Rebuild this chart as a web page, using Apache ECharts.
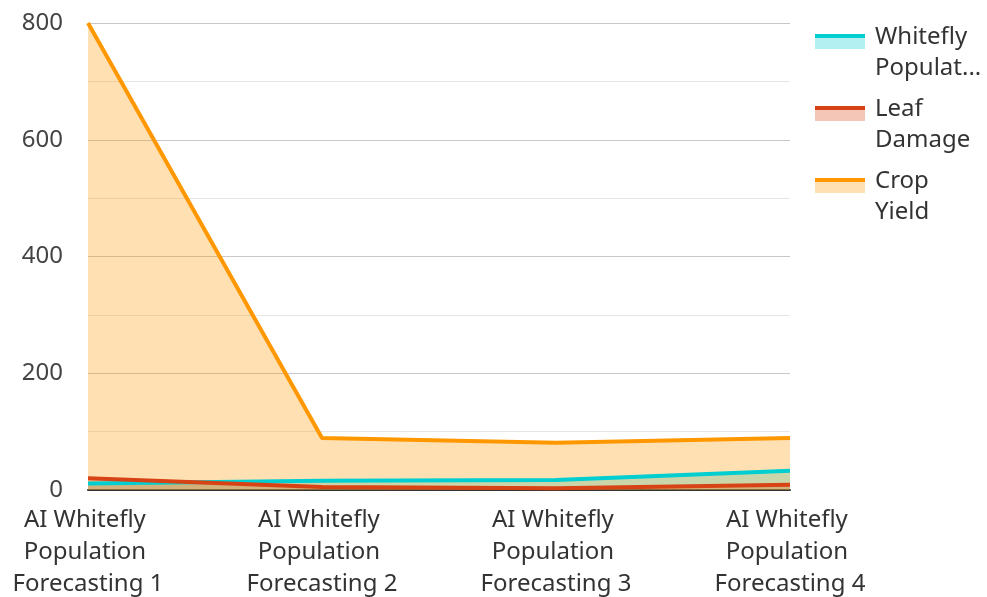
<!DOCTYPE html>
<html>
<head>
<meta charset="utf-8">
<script src="https://cdn.jsdelivr.net/npm/echarts@6/dist/echarts.min.js"></script>
<style>html,body{margin:0;padding:0;background:#fff;}#c{width:987px;height:597px;}</style>
</head>
<body>
<div id="c"></div>
<script>
var categories = ['AI Whitefly Population Forecasting 1', 'AI Whitefly Population Forecasting 2', 'AI Whitefly Population Forecasting 3', 'AI Whitefly Population Forecasting 4'];
var whiteflyPopulation = [11, 16, 17, 33];
var leafDamage = [20, 5, 3, 9];
var cropYield = [800, 89, 81, 89];
var seriesNames = ['Whitefly Population', 'Leaf Damage', 'Crop Yield'];
var colors = ['#00CED1', '#D84315', '#FF9800'];

var chart = echarts.init(document.getElementById('c'));
var font = 'Noto Sans';
function mk(name, data, color) {
  return {
    name: name, type: 'line', data: data, symbol: 'none', showSymbol: false,
    lineStyle: { width: 4, color: color },
    itemStyle: { color: color },
    areaStyle: { color: color, opacity: 0.3 }
  };
}
function legendIcon(color) {
  var light = echarts.color.modifyAlpha(color, 0.3);
  return new echarts.graphic.LinearGradient(0, 0, 0, 1, [
    { offset: 0, color: color },
    { offset: 0.105, color: color },
    { offset: 0.105, color: light },
    { offset: 0.395, color: light },
    { offset: 0.395, color: 'rgba(255,255,255,0)' },
    { offset: 1, color: 'rgba(255,255,255,0)' }
  ]);
}
chart.setOption({
  animation: false,
  textStyle: { fontFamily: font },
  grid: { left: 88, right: 197, top: 23, bottom: 107, containLabel: false, outerBoundsMode: 'none' },
  legend: {
    orient: 'vertical', left: 815, top: 22, padding: 0, itemWidth: 50, itemHeight: 38, itemGap: 10, icon: 'rect',
    data: seriesNames.map(function (n, i) { return { name: n, itemStyle: { color: legendIcon(colors[i]) } }; }),
    formatter: function (n) { return n.split(' ').join('\n'); },
    textStyle: { fontSize: 24, color: '#333', fontFamily: font, width: 110, overflow: 'truncate', lineHeight: 31, padding: [0, 0, 0, 5] }
  },
  xAxis: {
    type: 'category', data: categories, boundaryGap: false,
    axisLine: { lineStyle: { color: '#333', width: 2 } },
    axisTick: { show: false },
    axisLabel: { interval: 0, fontSize: 24, color: '#333', width: 180, overflow: 'break', lineHeight: 32, margin: 14, fontFamily: font }
  },
  yAxis: {
    type: 'value', min: 0, max: 800, interval: 200,
    axisLine: { show: false }, axisTick: { show: false },
    axisLabel: { fontSize: 24, color: '#444', margin: 25, fontFamily: font },
    splitLine: { lineStyle: { color: '#c8c8c8', width: 1 } },
    minorTick: { show: false, splitNumber: 2 },
    minorSplitLine: { show: true, lineStyle: { color: '#e6e6e6', width: 1 } }
  },
  series: [
    mk(seriesNames[0], whiteflyPopulation, colors[0]),
    mk(seriesNames[1], leafDamage, colors[1]),
    mk(seriesNames[2], cropYield, colors[2])
  ]
});
</script>
</body>
</html>
